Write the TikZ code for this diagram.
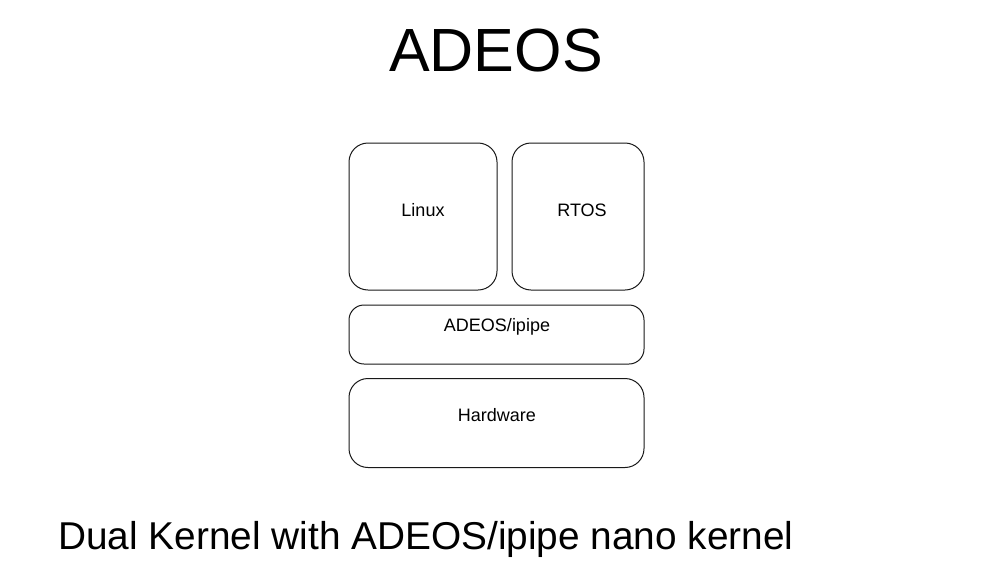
\documentclass[tikz,border=0pt]{standalone}
\usepackage{fontspec}
\setmainfont{Liberation Sans}
\begin{document}
\begin{tikzpicture}[x=1pt,y=-1pt,
  layer/.style={draw=black!90, line width=1pt, rounded corners=19pt, inner sep=0pt, font=\fontsize{18}{20}\selectfont},
  thinlayer/.style={layer, rounded corners=15pt},
  label/.style={font=\fontsize{18}{20}\selectfont}]
\useasboundingbox[fill=white] (0,0) rectangle (994,576);
\node[font=\fontsize{61}{66}\selectfont, anchor=base] (title) at (496,71) {ADEOS};
\node[layer, minimum width=148pt, minimum height=147pt] (linux) at (423,216.5) {};
\node[label] (linuxlabel) at (423,210) {Linux};
\node[layer, minimum width=132pt, minimum height=147pt] (rtos) at (578,216.5) {};
\node[label] (rtoslabel) at (582,210) {RTOS};
\node[thinlayer, minimum width=295pt, minimum height=59pt] (ipipe) at (496.5,334.5) {};
\node[label] (ipipelabel) at (497,327) {ADEOS/ipipe};
\node[layer, minimum width=295pt, minimum height=89pt] (hw) at (496.5,423) {};
\node[label] (hwlabel) at (497,415) {Hardware};
\node[font=\fontsize{38.8}{42}\selectfont, anchor=base west, inner sep=0pt] (caption) at (58,549) {Dual Kernel with ADEOS/ipipe nano kernel};
\end{tikzpicture}
\end{document}
